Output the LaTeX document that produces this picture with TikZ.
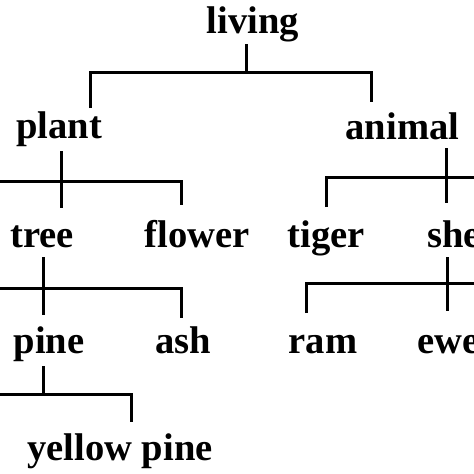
\documentclass[tikz,border=0pt]{standalone}
\usepackage{fontspec}
\setmainfont{Liberation Serif}
\begin{document}
\begin{tikzpicture}[x=1pt,y=-1pt,
  lbl/.style={font=\fontsize{38.6}{40}\selectfont\bfseries, inner sep=0pt, anchor=base},
  lblw/.style={lbl, anchor=base west},
  br/.style={line width=3pt, line join=miter, line cap=butt}]
\clip (0,0) rectangle (474,474);
\fill[white] (0,0) rectangle (474,474);
% labels
\node[lbl] (living) at (253,33) {living};
\node[lbl] (plant) at (59,138) {plant};
\node[lbl] (animal) at (402.5,139) {animal};
\node[lbl] (tree) at (42,247) {tree};
\node[lbl] (flower) at (197,247) {flower};
\node[lbl] (tiger) at (326,247) {tiger};
\node[lblw] (sheep) at (427,247) {sheep};
\node[lbl] (pine) at (49,353) {pine};
\node[lbl] (ash) at (183,353) {ash};
\node[lbl] (ram) at (323,353) {ram};
\node[lblw] (ewe) at (417,353) {ewe};
\node[lbl] (yellow) at (120,460) {yellow pine};
% junction coordinates
\coordinate (l1) at (246,44);  \coordinate (l2) at (246,72.5);
\coordinate (l3) at (90,108);  \coordinate (l4) at (371,102);
\coordinate (p1) at (61,151);  \coordinate (p2) at (61,208);
\coordinate (p3) at (-5,181);  \coordinate (p4) at (181,205);
\coordinate (a1) at (446,148); \coordinate (a2) at (446,203);
\coordinate (a3) at (326,207); \coordinate (a4) at (480,177);
\coordinate (t1) at (43,257);  \coordinate (t2) at (43,315);
\coordinate (t3) at (-5,288);  \coordinate (t4) at (181,318);
\coordinate (s1) at (447,257); \coordinate (s2) at (447,311);
\coordinate (s3) at (306,313); \coordinate (s4) at (480,283);
\coordinate (n1) at (43,366);  \coordinate (n2) at (43,394);
\coordinate (n3) at (-5,394);  \coordinate (n4) at (131,422);
% connectors
\draw[br] (l1) -- (l2);
\draw[br] (l3) |- (l2) -| (l4);
\draw[br] (p1) -- (p2);
\draw[br] (p3) -| (p4);
\draw[br] (a1) -- (a2);
\draw[br] (a3) |- (a4);
\draw[br] (t1) -- (t2);
\draw[br] (t3) -| (t4);
\draw[br] (s1) -- (s2);
\draw[br] (s3) |- (s4);
\draw[br] (n1) -- (n2);
\draw[br] (n3) -| (n4);
\end{tikzpicture}
\end{document}
